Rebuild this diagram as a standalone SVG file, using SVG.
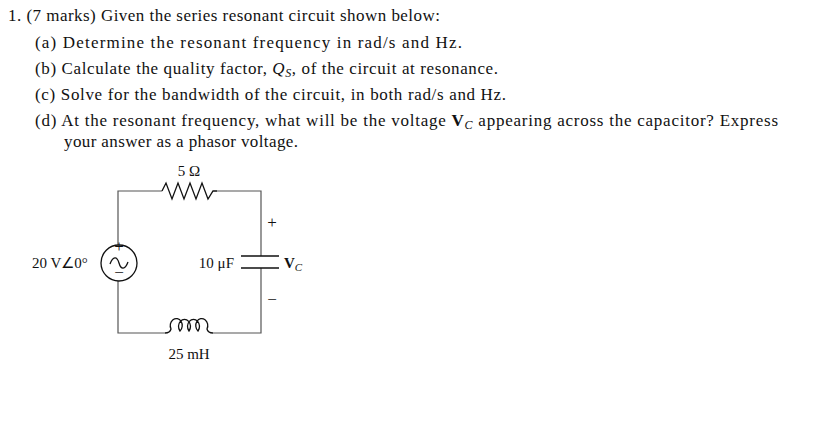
<svg xmlns="http://www.w3.org/2000/svg" width="817" height="424" viewBox="0 0 817 424">
<style>
text{font-family:"Liberation Serif",serif;font-size:17px;fill:#111}
.w{fill:none;stroke:#555;stroke-width:1.2}
.k{fill:none;stroke:#111;stroke-width:1.3}
.s{font-size:15px}
</style>
<rect width="817" height="424" fill="#fff"/>
<text x="8" y="21" textLength="432" lengthAdjust="spacing">1.  (7 marks)  Given the series resonant circuit shown below:</text>
<text x="35" y="48" textLength="427" lengthAdjust="spacing">(a)  Determine the resonant frequency in rad/s and Hz.</text>
<text x="35" y="74" textLength="463" lengthAdjust="spacing">(b)  Calculate the quality factor, <tspan font-style="italic">Q</tspan><tspan font-style="italic" font-size="12" dy="3">S</tspan><tspan dy="-3">, of the circuit at resonance.</tspan></text>
<text x="35" y="100" textLength="471" lengthAdjust="spacing">(c)  Solve for the bandwidth of the circuit, in both rad/s and Hz.</text>
<text x="35" y="126" textLength="743" lengthAdjust="spacing">(d)  At the resonant frequency, what will be the voltage <tspan font-weight="bold">V</tspan><tspan font-style="italic" font-size="12" dy="3">C</tspan><tspan dy="-3"> appearing across the capacitor? Express</tspan></text>
<text x="64" y="147" textLength="234" lengthAdjust="spacing">your answer as a phasor voltage.</text>
<g id="connectors">
<path class="w" d="M118,245V191H162M217,191H261V256M261,268V333H213M165,333H118V281"/>
</g>
<g id="resistor">
<path class="k" d="M162,191L166,183L172,199L178,183L184,199L190,183L196,199L202,183L208,199L213,191H217"/>
<text class="s" x="189" y="176" text-anchor="middle">5 Ω</text>
</g>
<g id="source">
<circle cx="119" cy="263" r="18" class="k"/>
<path class="k" d="M110,264C113,256 117,256 119,263C121,270 125,270 128,262"/>
<text x="119" y="252" font-size="7" text-anchor="middle">+</text>
<text x="119" y="278" font-size="7" text-anchor="middle">−</text>
<text class="s" x="32" y="268">20 V∠0°</text>
</g>
<g id="capacitor">
<path class="k" d="M241,256H279M241,268H279"/>
<text class="s" x="234" y="268" text-anchor="end">10 μF</text>
<text class="s" x="284" y="268"><tspan font-weight="bold">V</tspan><tspan font-style="italic" font-size="11" dy="3">C</tspan></text>
<text x="272" y="228" font-size="12" text-anchor="middle">+</text>
<text x="272" y="305" font-size="12" text-anchor="middle">−</text>
</g>
<g id="inductor">
<path class="k" d="M165,333Q170,333 171,329A6,7 0 1 1 180,331A6,7 0 1 1 189,331A6,7 0 1 1 198,331A6,7 0 1 1 207,329Q208,333 213,333"/>
<text class="s" x="189" y="359" text-anchor="middle">25 mH</text>
</g>
</svg>
